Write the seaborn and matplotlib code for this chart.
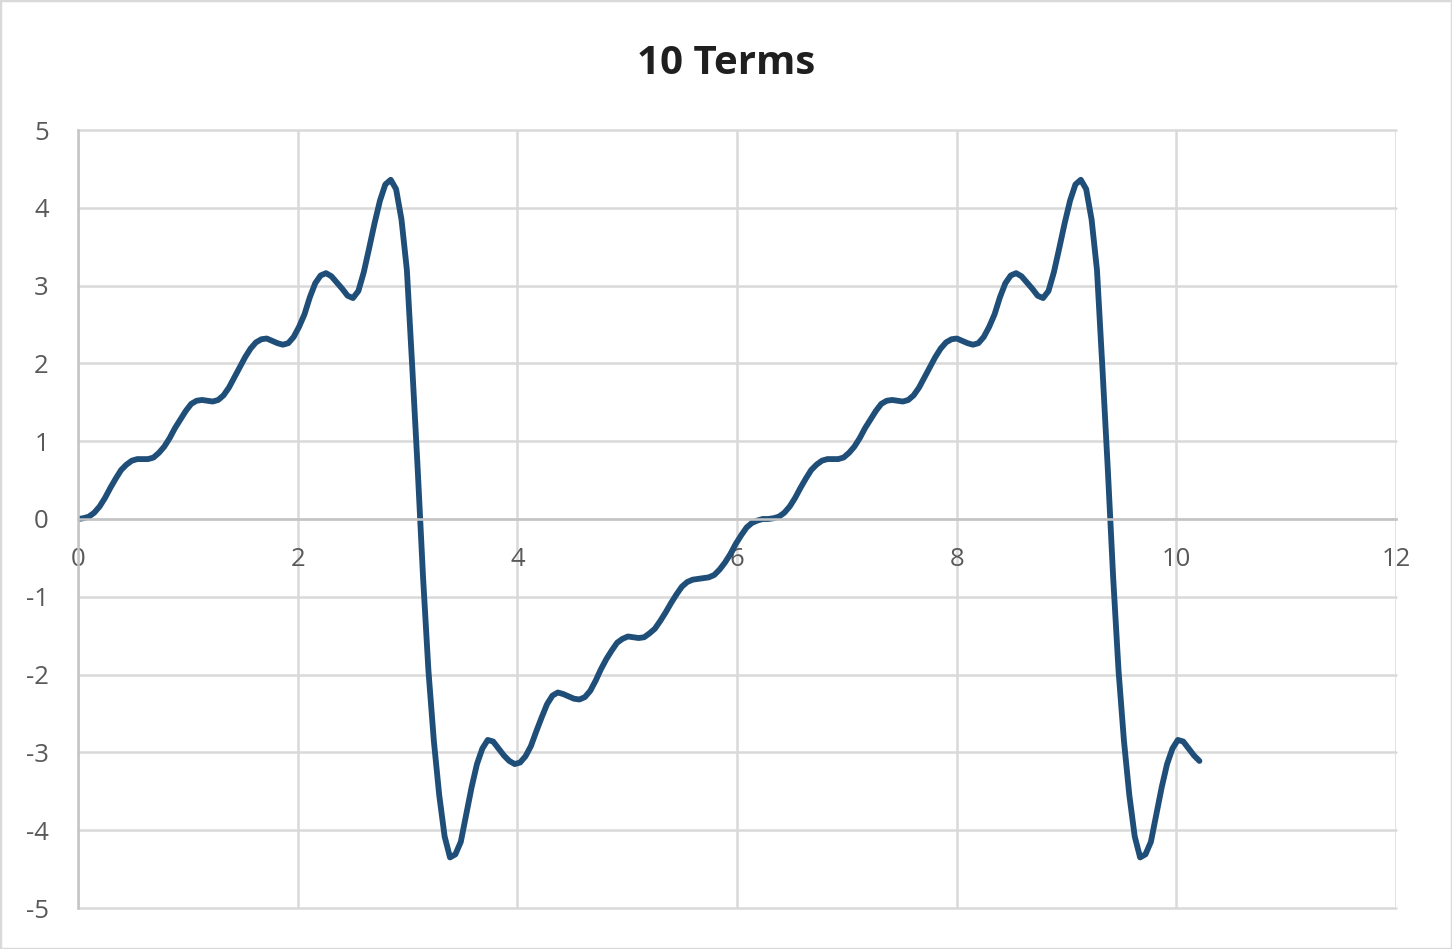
import numpy as np
import pandas as pd
import matplotlib
matplotlib.use("Agg")
import matplotlib.pyplot as plt
import seaborn as sns
from matplotlib.patches import Rectangle

# ── Data ──────────────────────────────────────────────────────────────────────
TITLE = "10 Terms"

# x column is an even grid, one sample every X_STEP
X_STEP = 0.0490874

Y_VALUES = [
    0.00, 0.01, 0.03, 0.08, 0.16, 0.27, 0.40, 0.52, 0.63, 0.70,
    0.75, 0.77, 0.77, 0.77, 0.79, 0.85, 0.93, 1.04, 1.17, 1.28,
    1.39, 1.48, 1.52, 1.53, 1.52, 1.51, 1.53, 1.59, 1.69, 1.82,
    1.95, 2.08, 2.19, 2.27, 2.31, 2.32, 2.29, 2.26, 2.24, 2.26,
    2.34, 2.47, 2.63, 2.85, 3.03, 3.13, 3.16, 3.12, 3.04, 2.96,
    2.87, 2.84, 2.93, 3.17, 3.48, 3.80, 4.09, 4.30, 4.36, 4.24,
    3.85, 3.20, 1.95, 0.65, -0.75, -1.95, -2.85, -3.55, -4.08, -4.35,
    -4.31, -4.15, -3.80, -3.45, -3.15, -2.95, -2.84, -2.86, -2.95, -3.04,
    -3.11, -3.15, -3.13, -3.05, -2.92, -2.73, -2.55, -2.38, -2.27, -2.23,
    -2.25, -2.28, -2.31, -2.32, -2.29, -2.21, -2.08, -1.93, -1.80, -1.69,
    -1.59, -1.54, -1.51, -1.52, -1.53, -1.52, -1.47, -1.41, -1.31, -1.20,
    -1.08, -0.97, -0.87, -0.81, -0.78, -0.77, -0.76, -0.75, -0.72, -0.65,
    -0.56, -0.45, -0.32, -0.21, -0.11, -0.05, -0.02, 0.00, 0.00, 0.01,
    0.03, 0.08, 0.16, 0.27, 0.40, 0.52, 0.63, 0.70, 0.75, 0.77,
    0.77, 0.77, 0.79, 0.85, 0.93, 1.04, 1.17, 1.28, 1.39, 1.48,
    1.52, 1.53, 1.52, 1.51, 1.53, 1.59, 1.69, 1.82, 1.95, 2.08,
    2.19, 2.27, 2.31, 2.32, 2.29, 2.26, 2.24, 2.26, 2.34, 2.47,
    2.63, 2.85, 3.03, 3.13, 3.16, 3.12, 3.04, 2.96, 2.87, 2.84,
    2.93, 3.17, 3.48, 3.80, 4.09, 4.30, 4.36, 4.24, 3.85, 3.20,
    1.95, 0.65, -0.75, -1.95, -2.85, -3.55, -4.08, -4.35, -4.31, -4.15,
    -3.80, -3.45, -3.15, -2.95, -2.84, -2.86, -2.95, -3.04, -3.11,
]

X_TICKS = [0, 2, 4, 6, 8, 10, 12]
Y_TICKS = [-5, -4, -3, -2, -1, 0, 1, 2, 3, 4, 5]

LINE_COLOR = "#1f4e79"
GRID_COLOR = "#d9d9d9"
AXIS_COLOR = "#c4c4c4"
TEXT_COLOR = "#595959"

df = pd.DataFrame({"x": np.arange(len(Y_VALUES)) * X_STEP, "y": Y_VALUES})

# ── Plot ──────────────────────────────────────────────────────────────────────
sns.set_theme(style="white")
plt.rcParams["font.family"] = ["Open Sans", "DejaVu Sans"]
plt.rcParams["axes.unicode_minus"] = False

W, H = 1452, 949
fig = plt.figure(figsize=(W / 100, H / 100), dpi=100)
ax = fig.add_axes([78 / W, 1 - 908 / H, (1396 - 78) / W, (908 - 130) / H])

sns.lineplot(data=df, x="x", y="y", ax=ax, color=LINE_COLOR,
             linewidth=4.2, estimator=None, sort=False)
line = ax.lines[0]
line.set_solid_capstyle("round")
line.set_solid_joinstyle("round")

ax.set_xlim(0, 12)
ax.set_ylim(-5, 5)
ax.set_xticks(X_TICKS)
ax.set_yticks(Y_TICKS)
ax.set_xlabel("")
ax.set_ylabel("")

ax.grid(True, color=GRID_COLOR, linewidth=1.8)
ax.set_axisbelow(True)
for gl in ax.get_xgridlines() + ax.get_ygridlines():
    gl.set_clip_on(False)

# horizontal axis crosses at y = 0, Excel style
ax.spines["bottom"].set_position(("data", 0))
for side in ["bottom", "left"]:
    ax.spines[side].set_color(AXIS_COLOR)
    ax.spines[side].set_linewidth(1.8)
for side in ["top", "right"]:
    ax.spines[side].set_visible(False)

ax.tick_params(axis="both", length=0, labelsize=18.5, labelcolor=TEXT_COLOR)
ax.tick_params(axis="x", pad=20)
ax.tick_params(axis="y", pad=21)

fig.text(0.5, 1 - 74 / H, TITLE, ha="center", va="baseline",
         fontsize=29, fontweight="bold", color="#1f1f1f")

# chart area border
fig.patches.append(Rectangle((0, 0), 1, 1, transform=fig.transFigure,
                             fill=False, edgecolor=GRID_COLOR, linewidth=2.5))

fig.savefig("out.png", dpi=100)
